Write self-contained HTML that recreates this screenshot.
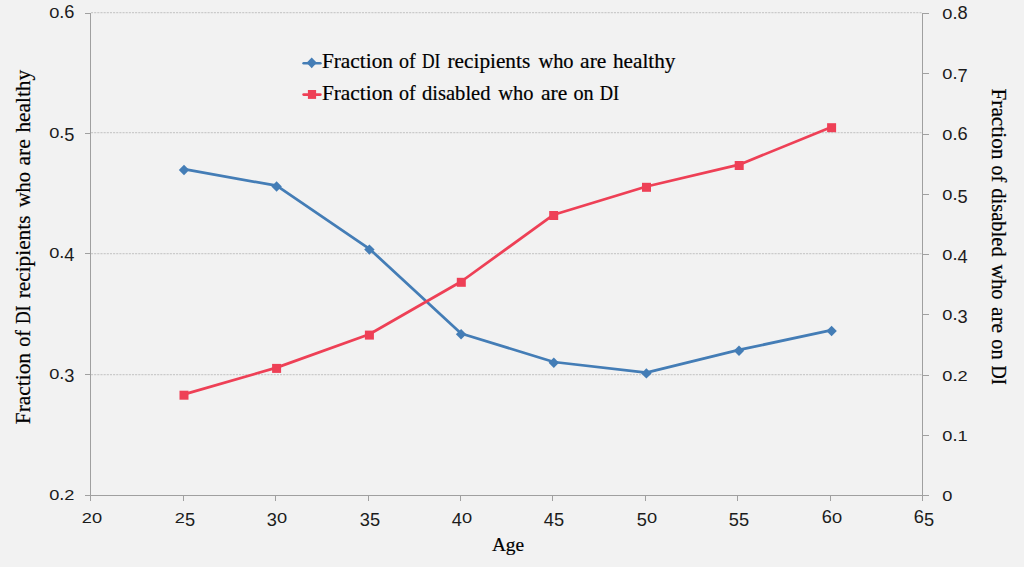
<!DOCTYPE html><html><head><meta charset="utf-8"><style>
html,body{margin:0;padding:0;background:#f2f2f2;}
svg{display:block;}
text{font-family:"Liberation Serif",serif;fill:#000;}
.t{stroke:#000;stroke-width:0.2px;}
.d{font-family:"Liberation Sans",sans-serif;font-size:19px;fill:#1c1c1c;}
</style></head><body>
<svg width="1024" height="567" viewBox="0 0 1024 567">
<rect width="1024" height="567" fill="#f2f2f2"/>
<line x1="91" y1="12.65" x2="922" y2="12.65" stroke="#cbcbcb" stroke-width="1.2" stroke-dasharray="2.1,1.05"/>
<line x1="91" y1="132.65" x2="922" y2="132.65" stroke="#cbcbcb" stroke-width="1.2" stroke-dasharray="2.1,1.05"/>
<line x1="91" y1="253.65" x2="922" y2="253.65" stroke="#cbcbcb" stroke-width="1.2" stroke-dasharray="2.1,1.05"/>
<line x1="91" y1="374.65" x2="922" y2="374.65" stroke="#cbcbcb" stroke-width="1.2" stroke-dasharray="2.1,1.05"/>
<g stroke="#a0a0a0" stroke-width="1" fill="none" shape-rendering="crispEdges">
<line x1="90.5" y1="13" x2="90.5" y2="496"/>
<line x1="922.5" y1="13" x2="922.5" y2="496"/>
<line x1="85" y1="495.5" x2="929" y2="495.5"/>
<line x1="85" y1="13.5" x2="91" y2="13.5"/>
<line x1="85" y1="133.5" x2="91" y2="133.5"/>
<line x1="85" y1="253.5" x2="91" y2="253.5"/>
<line x1="85" y1="374.5" x2="91" y2="374.5"/>
<line x1="85" y1="495.5" x2="91" y2="495.5"/>
<line x1="922" y1="495.5" x2="929" y2="495.5"/>
<line x1="922" y1="435.5" x2="929" y2="435.5"/>
<line x1="922" y1="375.5" x2="929" y2="375.5"/>
<line x1="922" y1="314.5" x2="929" y2="314.5"/>
<line x1="922" y1="254.5" x2="929" y2="254.5"/>
<line x1="922" y1="194.5" x2="929" y2="194.5"/>
<line x1="922" y1="134.5" x2="929" y2="134.5"/>
<line x1="922" y1="73.5" x2="929" y2="73.5"/>
<line x1="922" y1="13.5" x2="929" y2="13.5"/>
<line x1="90.5" y1="495" x2="90.5" y2="501"/>
<line x1="183.5" y1="495" x2="183.5" y2="501"/>
<line x1="275.5" y1="495" x2="275.5" y2="501"/>
<line x1="368.5" y1="495" x2="368.5" y2="501"/>
<line x1="460.5" y1="495" x2="460.5" y2="501"/>
<line x1="552.5" y1="495" x2="552.5" y2="501"/>
<line x1="645.5" y1="495" x2="645.5" y2="501"/>
<line x1="737.5" y1="495" x2="737.5" y2="501"/>
<line x1="830.5" y1="495" x2="830.5" y2="501"/>
<line x1="922.5" y1="495" x2="922.5" y2="501"/>
</g>
<polyline points="184.0,169.2 276.6,185.7 369.4,248.8 461.1,333.5 553.8,362.0 646.4,372.6 739.0,349.9 831.6,330.2" fill="none" stroke="#447db6" stroke-width="2.75" stroke-linejoin="round" stroke-linecap="round"/>
<polyline points="184.0,394.4 276.6,367.6 369.4,334.3 461.3,281.5 553.7,214.7 646.5,186.5 739.2,164.7 831.6,126.9" fill="none" stroke="#ee4056" stroke-width="2.75" stroke-linejoin="round" stroke-linecap="round"/>
<polygon points="184.0,164.8 189.2,170.0 184.0,175.2 178.8,170.0" fill="#447db6"/>
<polygon points="276.6,181.3 281.8,186.5 276.6,191.7 271.4,186.5" fill="#447db6"/>
<polygon points="369.4,244.4 374.6,249.6 369.4,254.8 364.2,249.6" fill="#447db6"/>
<polygon points="461.1,329.1 466.3,334.3 461.1,339.5 455.9,334.3" fill="#447db6"/>
<polygon points="553.8,357.6 559.0,362.8 553.8,368.0 548.6,362.8" fill="#447db6"/>
<polygon points="646.4,368.2 651.6,373.4 646.4,378.6 641.2,373.4" fill="#447db6"/>
<polygon points="739.0,345.5 744.2,350.7 739.0,355.9 733.8,350.7" fill="#447db6"/>
<polygon points="831.6,325.8 836.8,331.0 831.6,336.2 826.4,331.0" fill="#447db6"/>
<rect x="179.5" y="390.7" width="9.0" height="9.0" fill="#ee4056"/>
<rect x="272.1" y="363.9" width="9.0" height="9.0" fill="#ee4056"/>
<rect x="364.9" y="330.6" width="9.0" height="9.0" fill="#ee4056"/>
<rect x="456.8" y="277.8" width="9.0" height="9.0" fill="#ee4056"/>
<rect x="549.2" y="211.0" width="9.0" height="9.0" fill="#ee4056"/>
<rect x="642.0" y="182.8" width="9.0" height="9.0" fill="#ee4056"/>
<rect x="734.7" y="161.0" width="9.0" height="9.0" fill="#ee4056"/>
<rect x="827.1" y="123.2" width="9.0" height="9.0" fill="#ee4056"/>
<text class="d" transform="translate(49.15,18.10) scale(0.960,0.810)">0</text><text class="d" transform="translate(59.29,18.10) scale(0.960,1.000)">.</text><text class="d" transform="translate(64.36,18.10) scale(0.960,0.960)">6</text>
<text class="d" transform="translate(49.15,138.10) scale(0.960,0.810)">0</text><text class="d" transform="translate(59.29,138.10) scale(0.960,1.000)">.</text><text class="d" transform="translate(64.36,141.10) scale(0.960,1.000)">5</text>
<text class="d" transform="translate(49.15,258.10) scale(0.960,0.810)">0</text><text class="d" transform="translate(59.29,258.10) scale(0.960,1.000)">.</text><text class="d" transform="translate(64.36,261.10) scale(0.960,1.000)">4</text>
<text class="d" transform="translate(49.15,379.10) scale(0.960,0.810)">0</text><text class="d" transform="translate(59.29,379.10) scale(0.960,1.000)">.</text><text class="d" transform="translate(64.36,382.10) scale(0.960,1.000)">3</text>
<text class="d" transform="translate(49.15,500.10) scale(0.960,0.810)">0</text><text class="d" transform="translate(59.29,500.10) scale(0.960,1.000)">.</text><text class="d" transform="translate(64.36,500.10) scale(0.960,0.810)">2</text>
<text class="d" transform="translate(942.30,500.50) scale(0.960,0.810)">0</text>
<text class="d" transform="translate(942.30,440.50) scale(0.960,0.810)">0</text><text class="d" transform="translate(952.44,440.50) scale(0.960,1.000)">.</text><text class="d" transform="translate(957.51,440.50) scale(0.960,0.810)">1</text>
<text class="d" transform="translate(942.30,380.50) scale(0.960,0.810)">0</text><text class="d" transform="translate(952.44,380.50) scale(0.960,1.000)">.</text><text class="d" transform="translate(957.51,380.50) scale(0.960,0.810)">2</text>
<text class="d" transform="translate(942.30,319.50) scale(0.960,0.810)">0</text><text class="d" transform="translate(952.44,319.50) scale(0.960,1.000)">.</text><text class="d" transform="translate(957.51,322.50) scale(0.960,1.000)">3</text>
<text class="d" transform="translate(942.30,259.50) scale(0.960,0.810)">0</text><text class="d" transform="translate(952.44,259.50) scale(0.960,1.000)">.</text><text class="d" transform="translate(957.51,262.50) scale(0.960,1.000)">4</text>
<text class="d" transform="translate(942.30,199.50) scale(0.960,0.810)">0</text><text class="d" transform="translate(952.44,199.50) scale(0.960,1.000)">.</text><text class="d" transform="translate(957.51,202.50) scale(0.960,1.000)">5</text>
<text class="d" transform="translate(942.30,139.50) scale(0.960,0.810)">0</text><text class="d" transform="translate(952.44,139.50) scale(0.960,1.000)">.</text><text class="d" transform="translate(957.51,139.50) scale(0.960,0.960)">6</text>
<text class="d" transform="translate(942.30,78.50) scale(0.960,0.810)">0</text><text class="d" transform="translate(952.44,78.50) scale(0.960,1.000)">.</text><text class="d" transform="translate(957.51,81.50) scale(0.960,1.000)">7</text>
<text class="d" transform="translate(942.30,18.50) scale(0.960,0.810)">0</text><text class="d" transform="translate(952.44,18.50) scale(0.960,1.000)">.</text><text class="d" transform="translate(957.51,18.50) scale(0.960,0.960)">8</text>
<text class="d" transform="translate(81.86,523.00) scale(0.960,0.810)">2</text><text class="d" transform="translate(92.00,523.00) scale(0.960,0.810)">0</text>
<text class="d" transform="translate(174.86,523.00) scale(0.960,0.810)">2</text><text class="d" transform="translate(185.00,526.00) scale(0.960,1.000)">5</text>
<text class="d" transform="translate(266.86,526.00) scale(0.960,1.000)">3</text><text class="d" transform="translate(277.00,523.00) scale(0.960,0.810)">0</text>
<text class="d" transform="translate(359.86,526.00) scale(0.960,1.000)">3</text><text class="d" transform="translate(370.00,526.00) scale(0.960,1.000)">5</text>
<text class="d" transform="translate(451.86,526.00) scale(0.960,1.000)">4</text><text class="d" transform="translate(462.00,523.00) scale(0.960,0.810)">0</text>
<text class="d" transform="translate(543.86,526.00) scale(0.960,1.000)">4</text><text class="d" transform="translate(554.00,526.00) scale(0.960,1.000)">5</text>
<text class="d" transform="translate(636.86,526.00) scale(0.960,1.000)">5</text><text class="d" transform="translate(647.00,523.00) scale(0.960,0.810)">0</text>
<text class="d" transform="translate(728.86,526.00) scale(0.960,1.000)">5</text><text class="d" transform="translate(739.00,526.00) scale(0.960,1.000)">5</text>
<text class="d" transform="translate(821.86,523.00) scale(0.960,0.960)">6</text><text class="d" transform="translate(832.00,523.00) scale(0.960,0.810)">0</text>
<text class="d" transform="translate(913.86,523.00) scale(0.960,0.960)">6</text><text class="d" transform="translate(924.00,526.00) scale(0.960,1.000)">5</text>
<text class="t" x="508" y="551" font-size="19.4" text-anchor="middle" textLength="32" lengthAdjust="spacing">Age</text>
<line x1="303.6" y1="63.2" x2="320.4" y2="63.2" stroke="#447db6" stroke-width="2.6" stroke-linecap="round"/>
<polygon points="311.7,57.4 316.8,62.8 311.7,68.2 306.6,62.8" fill="#447db6"/>
<line x1="303.6" y1="94.6" x2="320.4" y2="94.6" stroke="#ee4056" stroke-width="2.6" stroke-linecap="round"/>
<rect x="307.9" y="90" width="8.2" height="8.9" fill="#ee4056"/>
<g transform="translate(0,68.2)"><text class="t" x="321.90" y="0" font-size="20.6" textLength="71.10" lengthAdjust="spacingAndGlyphs">Fraction</text><text class="t" x="399.10" y="0" font-size="20.6" textLength="16.70" lengthAdjust="spacingAndGlyphs">of</text><text class="t" x="422.00" y="0" font-size="20.6" textLength="18.40" lengthAdjust="spacingAndGlyphs">DI</text><text class="t" x="447.50" y="0" font-size="20.6" textLength="82.70" lengthAdjust="spacingAndGlyphs">recipients</text><text class="t" x="538.40" y="0" font-size="20.6" textLength="35.20" lengthAdjust="spacingAndGlyphs">who</text><text class="t" x="580.10" y="0" font-size="20.6" textLength="26.30" lengthAdjust="spacingAndGlyphs">are</text><text class="t" x="613.00" y="0" font-size="20.6" textLength="62.50" lengthAdjust="spacingAndGlyphs">healthy</text></g>
<g transform="translate(0,99.9)"><text class="t" x="321.90" y="0" font-size="20.6" textLength="71.10" lengthAdjust="spacingAndGlyphs">Fraction</text><text class="t" x="399.10" y="0" font-size="20.6" textLength="16.70" lengthAdjust="spacingAndGlyphs">of</text><text class="t" x="422.00" y="0" font-size="20.6" textLength="68.50" lengthAdjust="spacingAndGlyphs">disabled</text><text class="t" x="498.30" y="0" font-size="20.6" textLength="35.20" lengthAdjust="spacingAndGlyphs">who</text><text class="t" x="540.90" y="0" font-size="20.6" textLength="26.30" lengthAdjust="spacingAndGlyphs">are</text><text class="t" x="573.40" y="0" font-size="20.6" textLength="20.20" lengthAdjust="spacingAndGlyphs">on</text><text class="t" x="599.70" y="0" font-size="20.6" textLength="19.40" lengthAdjust="spacingAndGlyphs">DI</text></g>
<g transform="translate(29.8,423.5) rotate(-90)"><text class="t" x="-0.70" y="0" font-size="20.6" textLength="71.24" lengthAdjust="spacingAndGlyphs">Fraction</text><text class="t" x="76.65" y="0" font-size="20.6" textLength="16.73" lengthAdjust="spacingAndGlyphs">of</text><text class="t" x="99.60" y="0" font-size="20.6" textLength="18.44" lengthAdjust="spacingAndGlyphs">DI</text><text class="t" x="125.15" y="0" font-size="20.6" textLength="82.86" lengthAdjust="spacingAndGlyphs">recipients</text><text class="t" x="216.23" y="0" font-size="20.6" textLength="35.27" lengthAdjust="spacingAndGlyphs">who</text><text class="t" x="258.01" y="0" font-size="20.6" textLength="26.35" lengthAdjust="spacingAndGlyphs">are</text><text class="t" x="290.98" y="0" font-size="20.6" textLength="62.62" lengthAdjust="spacingAndGlyphs">healthy</text></g>
<g transform="translate(992,89.2) rotate(90)"><text class="t" x="-0.70" y="0" font-size="20.6" textLength="70.91" lengthAdjust="spacingAndGlyphs">Fraction</text><text class="t" x="76.29" y="0" font-size="20.6" textLength="16.65" lengthAdjust="spacingAndGlyphs">of</text><text class="t" x="99.13" y="0" font-size="20.6" textLength="68.32" lengthAdjust="spacingAndGlyphs">disabled</text><text class="t" x="175.23" y="0" font-size="20.6" textLength="35.11" lengthAdjust="spacingAndGlyphs">who</text><text class="t" x="217.71" y="0" font-size="20.6" textLength="26.23" lengthAdjust="spacingAndGlyphs">are</text><text class="t" x="250.12" y="0" font-size="20.6" textLength="20.15" lengthAdjust="spacingAndGlyphs">on</text><text class="t" x="276.35" y="0" font-size="20.6" textLength="19.35" lengthAdjust="spacingAndGlyphs">DI</text></g>
</svg></body></html>
